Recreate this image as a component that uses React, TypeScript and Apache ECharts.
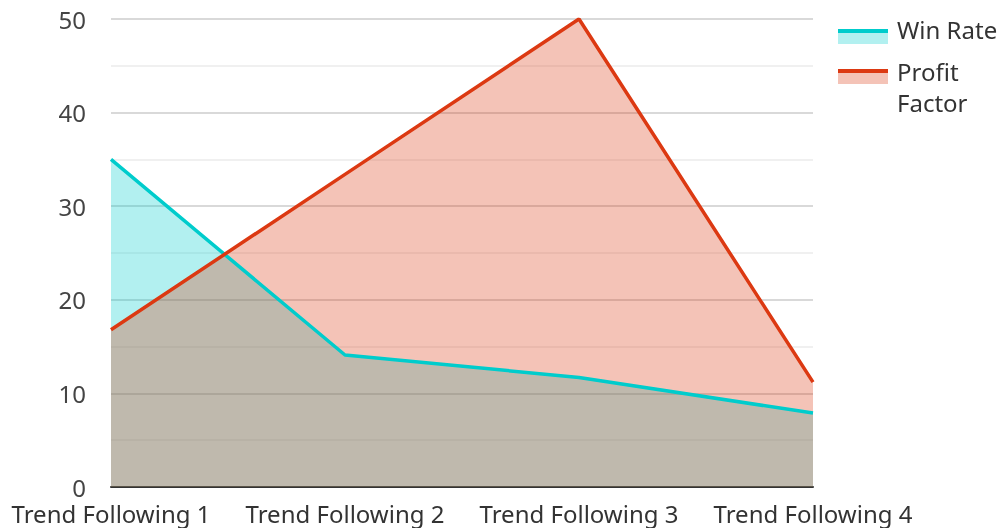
import React, { useEffect, useRef } from "react";
import * as echarts from "echarts";

const categories = ["Trend Following 1", "Trend Following 2", "Trend Following 3", "Trend Following 4"];
const winRate = [35, 14.1, 11.7, 7.9];
const profitFactor = [16.8, 33.4, 50, 11.2];
const seriesNames = ["Win Rate", "Profit Factor"];
const legendLabels = ["Win Rate", "Profit\nFactor"];
const colors = ["#00cccc", "#dc3912"];

const FONT = "'Noto Sans', 'Open Sans', sans-serif";

export default function App() {
  const ref = useRef<HTMLDivElement>(null);
  useEffect(() => {
    if (!ref.current) return;
    const chart = echarts.init(ref.current, undefined, { renderer: "svg" });
    const data = [winRate, profitFactor];
    const areaSeries = data.map((d, i) => ({
      name: seriesNames[i],
      type: "line",
      data: d,
      symbol: "none",
      lineStyle: { width: 0, opacity: 0 },
      itemStyle: { color: colors[i] },
      areaStyle: { color: colors[i], opacity: 0.3 },
      z: 2,
      silent: true,
    }));
    const lineSeries = data.map((d, i) => ({
      name: seriesNames[i],
      type: "line",
      data: d,
      symbol: "none",
      lineStyle: { width: 3.5, color: colors[i] },
      itemStyle: { color: colors[i] },
      z: 3,
    }));
    const legendGraphics: any[] = [];
    const legendTops = [29, 69];
    const textTops = [14, 56];
    legendLabels.forEach((lab, i) => {
      const y = legendTops[i];
      legendGraphics.push({
        type: "rect",
        shape: { x: 838, y: y, width: 50, height: 15 },
        style: { fill: colors[i], opacity: 0.3 },
      });
      legendGraphics.push({
        type: "rect",
        shape: { x: 838, y: y, width: 50, height: 4 },
        style: { fill: colors[i] },
      });
      legendGraphics.push({
        type: "text",
        x: 897,
        y: textTops[i],
        style: {
          text: lab,
          fill: "#333",
          font: `24px ${FONT}`,
          lineHeight: 31,
          textVerticalAlign: "top",
        },
      });
    });
    chart.setOption({
      animation: false,
      textStyle: { fontFamily: FONT },
      grid: { left: 111, right: 190, top: 19, bottom: 41, containLabel: false },
      xAxis: {
        type: "category",
        data: categories,
        boundaryGap: false,
        axisLine: { lineStyle: { color: "#333", width: 2 } },
        axisTick: { show: false },
        axisLabel: { color: "#333", fontSize: 24, margin: 14, fontFamily: FONT, interval: 0, hideOverlap: false },
        splitLine: { show: false },
      },
      yAxis: {
        type: "value",
        min: 0,
        max: 50,
        interval: 10,
        axisLine: { show: false },
        axisTick: { show: false },
        axisLabel: { color: "#444", fontSize: 24, lineHeight: 18, margin: 25, fontFamily: FONT },
        splitLine: { lineStyle: { color: "#cccccc", width: 1.5 } },
        minorTick: { show: false, splitNumber: 2 },
        minorSplitLine: { show: true, lineStyle: { color: "#ebebeb", width: 1.5 } },
      },
      series: [...areaSeries, ...lineSeries],
      graphic: legendGraphics,
    });
    return () => chart.dispose();
  }, []);
  return (
    <div
      ref={ref}
      style={{ position: "fixed", left: 0, top: 0, width: 1003, height: 528 }}
    />
  );
}
